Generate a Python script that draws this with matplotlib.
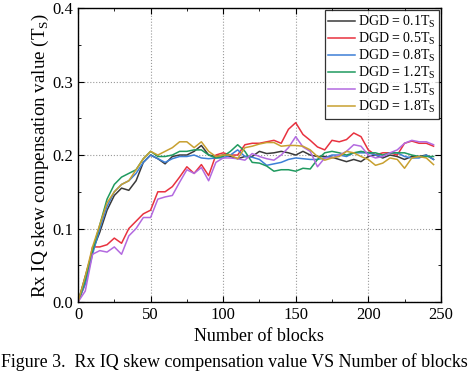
import matplotlib
matplotlib.use("Agg")
import matplotlib.pyplot as plt
from matplotlib.ticker import MultipleLocator

plt.rcParams['font.family'] = ['Liberation Serif', 'DejaVu Serif']
plt.rcParams['mathtext.fontset'] = 'custom'
plt.rcParams['mathtext.rm'] = 'Liberation Serif'

blocks = list(range(0, 250, 5))

dgd_01 = [0, 0.035, 0.07, 0.095, 0.125, 0.145, 0.155, 0.152, 0.165, 0.19,
          0.2, 0.195, 0.188, 0.198, 0.2, 0.2, 0.205, 0.213, 0.2, 0.198,
          0.2, 0.198, 0.195, 0.198, 0.198, 0.205, 0.202, 0.203, 0.205, 0.203,
          0.2, 0.205, 0.2, 0.198, 0.198, 0.197, 0.194, 0.191, 0.194, 0.191,
          0.198, 0.2, 0.196, 0.2, 0.198, 0.194, 0.198, 0.198, 0.2, 0.194]
dgd_05 = [0, 0.025, 0.075, 0.075, 0.078, 0.087, 0.08, 0.1, 0.11, 0.12,
          0.125, 0.15, 0.15, 0.157, 0.17, 0.184, 0.175, 0.187, 0.172, 0.2,
          0.203, 0.2, 0.2, 0.214, 0.216, 0.216, 0.218, 0.22, 0.216, 0.235,
          0.244, 0.228, 0.22, 0.211, 0.207, 0.22, 0.218, 0.221, 0.23, 0.225,
          0.207, 0.2, 0.203, 0.203, 0.2, 0.216, 0.219, 0.216, 0.216, 0.212]
dgd_08 = [0, 0.025, 0.065, 0.1, 0.13, 0.15, 0.16, 0.165, 0.175, 0.19,
          0.2, 0.195, 0.19, 0.195, 0.198, 0.198, 0.2, 0.196, 0.195, 0.196,
          0.196, 0.2, 0.207, 0.198, 0.197, 0.194, 0.186, 0.188, 0.19, 0.194,
          0.196, 0.195, 0.194, 0.194, 0.196, 0.2, 0.2, 0.198, 0.203, 0.203,
          0.203, 0.2, 0.198, 0.203, 0.203, 0.198, 0.196, 0.196, 0.2, 0.194]
dgd_12 = [0, 0.03, 0.07, 0.105, 0.14, 0.16, 0.17, 0.175, 0.18, 0.195,
          0.205, 0.198, 0.198, 0.2, 0.205, 0.205, 0.207, 0.207, 0.2, 0.196,
          0.198, 0.205, 0.214, 0.205, 0.19, 0.189, 0.185, 0.178, 0.18, 0.18,
          0.178, 0.182, 0.181, 0.194, 0.203, 0.205, 0.203, 0.2, 0.203, 0.205,
          0.203, 0.203, 0.2, 0.203, 0.203, 0.203, 0.2, 0.198, 0.198, 0.198]
dgd_15 = [0, 0.015, 0.065, 0.07, 0.068, 0.075, 0.065, 0.09, 0.1, 0.115,
          0.115, 0.14, 0.143, 0.145, 0.163, 0.18, 0.175, 0.183, 0.165, 0.19,
          0.196, 0.196, 0.195, 0.193, 0.202, 0.198, 0.195, 0.193, 0.2, 0.21,
          0.225, 0.211, 0.205, 0.184, 0.196, 0.196, 0.2, 0.205, 0.214, 0.212,
          0.2, 0.196, 0.198, 0.203, 0.207, 0.216, 0.22, 0.218, 0.218, 0.214]
dgd_18 = [0, 0.035, 0.075, 0.105, 0.135, 0.15, 0.16, 0.165, 0.18, 0.195,
          0.205, 0.2, 0.205, 0.21, 0.218, 0.218, 0.21, 0.218, 0.205, 0.198,
          0.2, 0.2, 0.195, 0.21, 0.212, 0.215, 0.217, 0.217, 0.212, 0.213,
          0.213, 0.212, 0.207, 0.198, 0.193, 0.196, 0.198, 0.205, 0.203, 0.198,
          0.194, 0.186, 0.189, 0.196, 0.194, 0.182, 0.196, 0.198, 0.196, 0.187]

series = [
    ("DGD = 0.1T$_\\mathregular{S}$", dgd_01, "#3a3a3a"),
    ("DGD = 0.5T$_\\mathregular{S}$", dgd_05, "#e8323f"),
    ("DGD = 0.8T$_\\mathregular{S}$", dgd_08, "#3d7fd6"),
    ("DGD = 1.2T$_\\mathregular{S}$", dgd_12, "#1f9a5f"),
    ("DGD = 1.5T$_\\mathregular{S}$", dgd_15, "#b36ae0"),
    ("DGD = 1.8T$_\\mathregular{S}$", dgd_18, "#c8a030"),
]

fig = plt.figure(figsize=(4.74, 3.72), dpi=100)
ax = fig.add_axes([0.1646, 0.188, 0.7654, 0.7905])

for label, vals, col in series:
    ax.plot(blocks, vals, color=col, lw=1.1, label=label)

ax.set_xlim(0, 250)
ax.set_ylim(0, 0.4)
ax.xaxis.set_major_locator(MultipleLocator(50))
ax.xaxis.set_minor_locator(MultipleLocator(25))
ax.yaxis.set_major_locator(MultipleLocator(0.1))
ax.yaxis.set_minor_locator(MultipleLocator(0.05))
ax.yaxis.set_major_formatter(matplotlib.ticker.FormatStrFormatter('%.1f'))
ax.tick_params(which='both', direction='in', top=True, right=True, labelsize=12)
ax.tick_params(which='major', length=4)
ax.tick_params(which='minor', length=2)
ax.grid(True, which='major', linestyle=':', color='#999999', lw=0.8)
for s in ax.spines.values():
    s.set_linewidth(1.0)

ax.set_xlabel("Number of blocks", fontsize=13)
ax.set_ylabel("Rx IQ skew compensation value (T$_\\mathregular{S}$)", fontsize=13.7,
              labelpad=1)

leg = ax.legend(loc='upper right', fontsize=10, frameon=True, fancybox=False,
                edgecolor='black', borderaxespad=0.15, handlelength=1.9,
                handletextpad=0.2, labelspacing=0.05, borderpad=0.25)
leg.get_frame().set_linewidth(0.9)

fig.text(0.003, 0.014, "Figure 3.  Rx IQ skew compensation value VS Number of blocks",
         fontsize=12.9, ha='left', va='baseline')

fig.savefig("out.png", dpi=100)
